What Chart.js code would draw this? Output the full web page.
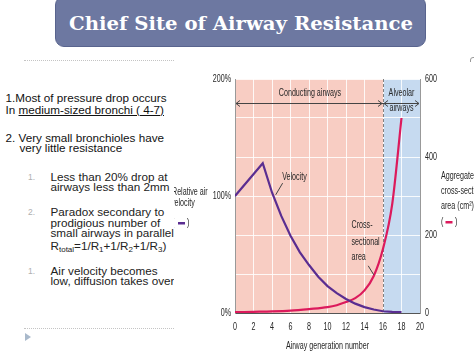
<!DOCTYPE html>
<html><head><meta charset="utf-8">
<script src="https://cdn.jsdelivr.net/npm/chart.js@4/dist/chart.umd.min.js"></script>
<style>
html,body{margin:0;padding:0;background:#fff;width:474px;height:355px;overflow:hidden;position:relative;font-family:'Liberation Sans',Arial,sans-serif;}
.t{position:absolute;white-space:nowrap;font-size:11.7px;line-height:12px;color:#111;}
.s{color:#222;font-size:11.7px;line-height:11px}
.n{position:absolute;font-size:8.5px;color:#b0b0b0;line-height:12px}
#title{position:absolute;left:55px;top:-4px;width:371px;height:51px;background:#6d78a1;border:1px solid #59648e;border-radius:9px;box-sizing:border-box;}
#title span{position:absolute;left:50%;top:26px;color:#fff;font:bold 19px 'DejaVu Serif',serif;white-space:nowrap;transform-origin:center center;}
.dots{position:absolute;left:24px;width:150px;border-top:1px dotted #c4c4c4;height:0}
#cv{position:absolute;left:174px;top:62px;background:#fff;z-index:2}
sub{font-size:8px;vertical-align:-2px;line-height:0}
#tri{position:absolute;left:25px;top:333px;width:0;height:0;border-top:4px solid transparent;border-bottom:4px solid transparent;border-left:6px solid #a9b9cb}
#icon{position:absolute;left:470px;top:57px;width:8px;height:10px;border:1px solid #999;border-radius:3px}
</style></head><body>
<div id="title"><span id="ttl">Chief Site of Airway Resistance</span></div>
<div class="dots" style="top:60px"></div>
<div id="icon"></div>

<div class="t" style="left:5.5px;top:92px">1.Most of pressure drop occurs</div>
<div class="t" style="left:5.5px;top:104px">In <u>medium-sized bronchi ( 4-7)</u></div>
<div class="t" style="left:5.5px;top:132px">2. Very small bronchioles have</div>
<div class="t" style="left:19.5px;top:142px">very little resistance</div>

<div class="n" style="left:28px;top:171px">1.</div>
<div class="t s" style="left:50.5px;top:171px">Less than 20% drop at</div>
<div class="t s" style="left:50.5px;top:181px">airways less than 2mm</div>

<div class="n" style="left:28px;top:206px">2.</div>
<div class="t s" style="left:50.5px;top:206px">Paradox secondary to</div>
<div class="t s" style="left:50.5px;top:216.5px">prodigious number of</div>
<div class="t s" style="left:50.5px;top:226.5px">small airways in parallel</div>
<div class="t s" style="left:50.5px;top:239.5px">R<sub>total</sub>=1/R<sub>1</sub>+1/R<sub>2</sub>+1/R<sub>3</sub>)</div>

<div class="n" style="left:28px;top:265px">1.</div>
<div class="t s" style="left:50.5px;top:265px">Air velocity becomes</div>
<div class="t s" style="left:50.5px;top:275px">low, diffusion takes over</div>

<div class="dots" style="top:328px"></div>
<div id="tri"></div>

<canvas id="cv" width="300" height="293"></canvas>
<script>
// ---- data ----
const velocityGen = [0, 3, 4, 5, 6, 7, 8, 9, 10, 11, 12, 13, 14, 15, 16, 17, 18];
const velocityPct = [100, 128, 103, 83, 66, 52, 41, 31, 23, 17, 12, 8, 5, 3, 1.5, 1, 0.7];
const areaGen = [0, 2, 4, 6, 8, 10, 11, 12, 13, 14, 15, 16, 17, 18];
const areaCm2 = [2, 3, 4, 6, 10, 15, 20, 28, 38, 58, 95, 165, 280, 500];
const alveolarStart = 16;
const genMin = 0, genMax = 20, genStep = 2;
const leftTicks = [0, 100, 200];
const rightTicks = [0, 200, 400, 600];

// fit title width
(function(){
  const s = document.getElementById('ttl');
  const w = s.getBoundingClientRect().width;
  s.style.transform = 'translate(-50%,-50%) scaleX(' + (344 / w) + ')';
})();

// condensed text rendering on the chart canvas (the figure uses a narrow face)
const cv = document.getElementById('cv');
const c2d = cv.getContext('2d');
const NARROW_SCALE = 0.62;
const baseFill = CanvasRenderingContext2D.prototype.fillText;
c2d.fillText = function (t, x, y, mw) {
  this.save();
  this.translate(x, y);
  this.scale(NARROW_SCALE, 1);
  if (mw === undefined || mw === null) baseFill.call(this, t, 0, 0);
  else baseFill.call(this, t, 0, 0, mw / NARROW_SCALE);
  this.restore();
};

const FONT = "'Liberation Sans',Arial,sans-serif";
const FSIZE = 11.5;
const TXT = '#262626';

function arrowHead(ctx, x, y, dir) {
  ctx.beginPath();
  ctx.moveTo(x + dir * 4, y - 3);
  ctx.lineTo(x, y);
  ctx.lineTo(x + dir * 4, y + 3);
  ctx.stroke();
}

const deco = {
  id: 'deco',
  beforeDraw(chart) {
    const {ctx, chartArea: a, scales: {x}} = chart;
    const xs = x.getPixelForValue(alveolarStart);
    ctx.save();
    ctx.fillStyle = '#f8cdc3';
    ctx.fillRect(a.left, a.top, xs - a.left, a.bottom - a.top);
    ctx.fillStyle = '#c6daf0';
    ctx.fillRect(xs, a.top, a.right - xs, a.bottom - a.top);
    ctx.restore();
  },
  beforeDatasetsDraw(chart) {
    const {ctx, chartArea: a, scales: {x}} = chart;
    const xs = Math.round(x.getPixelForValue(alveolarStart)) + 0.5;
    ctx.save();
    ctx.strokeStyle = '#808080';
    ctx.lineWidth = 1;
    ctx.setLineDash([3, 2]);
    ctx.beginPath(); ctx.moveTo(xs, a.top); ctx.lineTo(xs, a.bottom); ctx.stroke();
    ctx.restore();
  },
  afterDraw(chart) {
    const {ctx, chartArea: a, scales: {x, y, y2}} = chart;
    ctx.save();
    ctx.fillStyle = TXT;
    ctx.strokeStyle = '#444';
    ctx.lineWidth = 1;
    ctx.font = FSIZE + 'px ' + FONT;
    ctx.textBaseline = 'middle';
    // zone arrows
    const ay = Math.round(y2.getPixelForValue(539)) + 0.5;
    const x0 = x.getPixelForValue(genMin), xs = x.getPixelForValue(alveolarStart), x1 = x.getPixelForValue(genMax);
    ctx.beginPath(); ctx.moveTo(x0 + 1, ay); ctx.lineTo(x1 - 1, ay); ctx.stroke();
    arrowHead(ctx, x0 + 1, ay, 1);
    arrowHead(ctx, xs - 1, ay, -1);
    arrowHead(ctx, xs + 1, ay, 1);
    arrowHead(ctx, x1 - 1, ay, -1);
    ctx.textAlign = 'center';
    ctx.fillText('Conducting airways', x.getPixelForValue(8.1), y2.getPixelForValue(564));
    ctx.fillText('Alveolar', x.getPixelForValue(18), y2.getPixelForValue(564));
    ctx.fillText('airways', x.getPixelForValue(18), y2.getPixelForValue(527));
    // velocity label
    ctx.textAlign = 'left';
    ctx.fillText('Velocity', x.getPixelForValue(5.1), y.getPixelForValue(116));
    ctx.beginPath();
    ctx.moveTo(x.getPixelForValue(4.4), y.getPixelForValue(101));
    ctx.lineTo(x.getPixelForValue(5.15), y.getPixelForValue(111));
    ctx.stroke();
    // cross-sectional label
    const cx = x.getPixelForValue(12.6);
    ctx.fillText('Cross-', cx, y2.getPixelForValue(226));
    ctx.fillText('sectional', cx, y2.getPixelForValue(183));
    ctx.fillText('area', cx, y2.getPixelForValue(144));
    ctx.beginPath();
    ctx.moveTo(x.getPixelForValue(14.4), y2.getPixelForValue(121));
    ctx.lineTo(x.getPixelForValue(15.0), y2.getPixelForValue(98));
    ctx.stroke();
    // left axis caption
    const p100 = y.getPixelForValue(100);
    ctx.fillText('Relative air', a.left - 63, p100 - 4.5);
    ctx.fillText('velocity', a.left - 64, p100 + 7);
    ctx.fillText('(', a.left - 63, p100 + 27);
    ctx.fillText(')', a.left - 48, p100 + 27);
    ctx.fillStyle = '#5a2d91';
    ctx.fillRect(a.left - 57, p100 + 26, 7, 2.5);
    // right axis caption
    const p400 = y2.getPixelForValue(400);
    const rx = a.right + 21;
    ctx.fillStyle = TXT;
    ctx.fillText('Aggregated', rx, p400 + 19);
    ctx.fillText('cross-sectional', rx, p400 + 34);
    ctx.fillText('area (cm\u00B2)', rx, p400 + 49);
    ctx.fillText('(', rx, p400 + 65);
    ctx.fillText(')', rx + 14, p400 + 65);
    ctx.fillStyle = '#dc1a5c';
    ctx.fillRect(rx + 4.5, p400 + 64, 7, 2.5);
    ctx.restore();
  }
};

const tickFont = {family: FONT, size: FSIZE};
new Chart(cv, {
  type: 'line',
  data: {
    datasets: [
      {
        label: 'Velocity',
        data: velocityGen.map((g, i) => ({x: g, y: velocityPct[i]})),
        yAxisID: 'y',
        borderColor: '#5a2d91',
        borderWidth: 2.2,
        pointRadius: 0,
        tension: 0,
        fill: false
      },
      {
        label: 'Cross-sectional area',
        data: areaGen.map((g, i) => ({x: g, y: areaCm2[i]})),
        yAxisID: 'y2',
        borderColor: '#dc1a5c',
        borderWidth: 2.2,
        pointRadius: 0,
        cubicInterpolationMode: 'monotone',
        fill: false
      }
    ]
  },
  options: {
    responsive: false,
    animation: false,
    layout: {padding: {top: 17, left: 0, right: 0, bottom: 0}},
    plugins: {legend: {display: false}, tooltip: {enabled: false}},
    scales: {
      x: {
        type: 'linear', min: genMin, max: genMax,
        ticks: {stepSize: genStep, font: tickFont, color: TXT, padding: 7, maxRotation: 0},
        grid: {color: 'rgba(255,255,255,0.85)', drawTicks: false},
        border: {color: '#555', width: 1},
        title: {display: true, text: 'Airway generation number', font: tickFont, color: TXT, padding: {top: 2, bottom: 2}},
        afterFit(s) { s.height = 42; }
      },
      y: {
        position: 'left', min: 0, max: 200,
        afterBuildTicks(s) { s.ticks = leftTicks.map(v => ({value: v})); },
        ticks: {font: tickFont, color: TXT, padding: 4, callback: v => v + '%'},
        grid: {display: false, drawTicks: false},
        border: {color: '#999', width: 1},
        afterFit(s) { s.width = 61; }
      },
      y2: {
        position: 'right', min: 0, max: 600,
        ticks: {stepSize: 100, font: tickFont, color: TXT, padding: 5,
                callback: v => rightTicks.includes(v) ? String(v) : ''},
        grid: {color: 'rgba(255,255,255,0.85)', drawTicks: false},
        border: {color: '#999', width: 1},
        afterFit(s) { s.width = 54; }
      }
    }
  },
  plugins: [deco]
});
</script>
</body></html>
